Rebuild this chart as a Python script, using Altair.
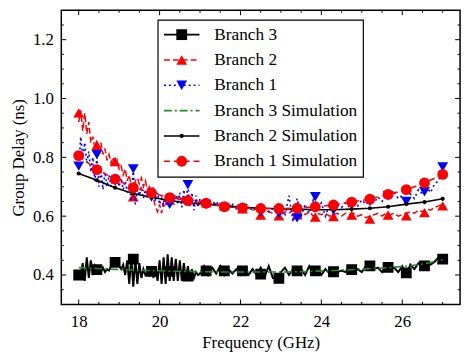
import altair as alt
import pandas as pd

# ---------------- data ----------------
# marker positions (GHz)
mk_x = [18.00, 18.45, 18.90, 19.35, 19.80, 20.25, 20.70, 21.15, 21.60, 22.05, 22.50,
        22.95, 23.40, 23.85, 24.30, 24.75, 25.20, 25.65, 26.10, 26.55, 27.00]

b3_mk = [0.400, 0.418, 0.443, 0.454, 0.412, 0.412, 0.396, 0.414, 0.414, 0.414, 0.403,
         0.389, 0.414, 0.414, 0.411, 0.418, 0.431, 0.426, 0.407, 0.431, 0.454]
b2_mk = [0.951, 0.841, 0.786, 0.666, 0.680, 0.655, 0.660, 0.645, 0.635, 0.625, 0.604,
         0.601, 0.605, 0.597, 0.599, 0.604, 0.590, 0.604, 0.601, 0.612, 0.635]
b1_mk = [0.770, 0.809, 0.720, 0.761, 0.665, 0.640, 0.707, 0.640, 0.630, 0.625, 0.615,
         0.610, 0.594, 0.666, 0.620, 0.640, 0.650, 0.670, 0.650, 0.683, 0.767]
b3_sim = [0.425, 0.422, 0.419, 0.417, 0.415, 0.413, 0.412, 0.411, 0.410, 0.410, 0.410,
          0.410, 0.411, 0.413, 0.415, 0.418, 0.421, 0.425, 0.430, 0.438, 0.452]
b2_sim = [0.745, 0.722, 0.697, 0.677, 0.664, 0.653, 0.645, 0.641, 0.635, 0.630, 0.627,
          0.625, 0.624, 0.622, 0.622, 0.624, 0.627, 0.632, 0.641, 0.648, 0.659]
b1_sim = [0.806, 0.758, 0.726, 0.697, 0.679, 0.663, 0.653, 0.644, 0.632, 0.628, 0.626,
          0.626, 0.627, 0.632, 0.638, 0.648, 0.658, 0.674, 0.690, 0.713, 0.742]

# dense measured traces
dense_x = [18.00, 18.05, 18.10, 18.15, 18.20, 18.25, 18.30, 18.35, 18.40, 18.45,
           18.50, 18.55, 18.60, 18.65, 18.70, 18.75, 18.80, 18.85, 18.90, 18.95,
           19.00, 19.05, 19.10, 19.15, 19.20, 19.25, 19.30, 19.35, 19.40, 19.45,
           19.50, 19.55, 19.60, 19.65, 19.70, 19.75, 19.80, 19.85, 19.90, 19.95,
           20.00, 20.05, 20.10, 20.15, 20.20, 20.25, 20.30, 20.35, 20.40, 20.45,
           20.50, 20.55, 20.60, 20.65, 20.70, 20.75, 20.80, 20.85, 20.90, 20.95,
           21.00, 21.1, 21.2, 21.3, 21.4, 21.5, 21.6, 21.7, 21.8, 21.9,
           22.0, 22.1, 22.2, 22.3, 22.4, 22.5, 22.6, 22.7, 22.8, 22.9,
           23.0, 23.1, 23.2, 23.3, 23.4, 23.5, 23.6, 23.7, 23.8, 23.9,
           24.0, 24.1, 24.2, 24.3, 24.4, 24.5, 24.6, 24.7, 24.8, 24.9,
           25.0, 25.1, 25.2, 25.3, 25.4, 25.5, 25.6, 25.7, 25.8, 25.9,
           26.0, 26.1, 26.2, 26.3, 26.4, 26.5, 26.6, 26.7, 26.8, 26.9, 27.0]

b3_dense = [0.40, 0.40, 0.44, 0.38, 0.46, 0.39, 0.45, 0.40, 0.43, 0.41,
            0.42, 0.41, 0.425, 0.41, 0.42, 0.415, 0.43, 0.445, 0.44, 0.445,
            0.43, 0.42, 0.435, 0.40, 0.45, 0.37, 0.46, 0.36, 0.455, 0.37,
            0.44, 0.39, 0.42, 0.40, 0.41, 0.40, 0.42, 0.39, 0.43, 0.38,
            0.45, 0.37, 0.46, 0.37, 0.47, 0.38, 0.46, 0.38, 0.455, 0.38,
            0.45, 0.38, 0.44, 0.385, 0.43, 0.38, 0.42, 0.39, 0.41, 0.40,
            0.405, 0.43, 0.40, 0.425, 0.405, 0.43, 0.40, 0.42, 0.405, 0.42,
            0.40, 0.415, 0.40, 0.42, 0.40, 0.425, 0.395, 0.43, 0.39, 0.385,
            0.41, 0.425, 0.40, 0.42, 0.405, 0.42, 0.40, 0.43, 0.405, 0.425,
            0.40, 0.42, 0.405, 0.415, 0.41, 0.415, 0.41, 0.43, 0.41, 0.42,
            0.41, 0.43, 0.435, 0.42, 0.425, 0.41, 0.43, 0.42, 0.425, 0.41,
            0.43, 0.40, 0.435, 0.42, 0.44, 0.43, 0.44, 0.435, 0.445, 0.46, 0.455]

b2_dense = [0.92, 0.96, 0.89, 0.95, 0.88, 0.92, 0.85, 0.87, 0.83, 0.86,
            0.82, 0.85, 0.81, 0.83, 0.79, 0.81, 0.78, 0.80, 0.77, 0.79,
            0.76, 0.77, 0.74, 0.76, 0.72, 0.74, 0.70, 0.66, 0.72, 0.73,
            0.71, 0.73, 0.70, 0.72, 0.69, 0.70, 0.68, 0.66, 0.63, 0.615,
            0.64, 0.61, 0.65, 0.64, 0.66, 0.65, 0.67, 0.66, 0.675, 0.66,
            0.67, 0.655, 0.665, 0.65, 0.66, 0.645, 0.655, 0.64, 0.65, 0.64,
            0.65, 0.645, 0.64, 0.65, 0.64, 0.645, 0.635, 0.64, 0.63, 0.635,
            0.63, 0.625, 0.63, 0.62, 0.625, 0.61, 0.62, 0.615, 0.61, 0.62,
            0.605, 0.615, 0.61, 0.62, 0.61, 0.615, 0.605, 0.615, 0.60, 0.61,
            0.605, 0.61, 0.60, 0.605, 0.61, 0.60, 0.61, 0.605, 0.61, 0.60,
            0.605, 0.595, 0.60, 0.605, 0.61, 0.60, 0.61, 0.605, 0.61, 0.60,
            0.605, 0.61, 0.615, 0.61, 0.62, 0.615, 0.625, 0.62, 0.63, 0.635, 0.64]

b1_dense = [0.76, 0.87, 0.80, 0.85, 0.78, 0.82, 0.75, 0.80, 0.72, 0.80,
            0.70, 0.76, 0.69, 0.75, 0.70, 0.74, 0.70, 0.73, 0.71, 0.74,
            0.70, 0.73, 0.69, 0.72, 0.68, 0.71, 0.65, 0.76, 0.64, 0.69,
            0.67, 0.70, 0.66, 0.69, 0.66, 0.68, 0.66, 0.70, 0.65, 0.68,
            0.64, 0.66, 0.63, 0.67, 0.64, 0.64, 0.66, 0.65, 0.67, 0.64,
            0.68, 0.63, 0.69, 0.64, 0.71, 0.63, 0.68, 0.62, 0.67, 0.63,
            0.66, 0.64, 0.655, 0.635, 0.65, 0.63, 0.645, 0.625, 0.64, 0.625,
            0.635, 0.62, 0.63, 0.62, 0.63, 0.615, 0.63, 0.615, 0.625, 0.61,
            0.63, 0.60, 0.67, 0.58, 0.66, 0.60, 0.64, 0.61, 0.655, 0.62,
            0.645, 0.60, 0.64, 0.615, 0.64, 0.63, 0.645, 0.63, 0.65, 0.635,
            0.655, 0.64, 0.66, 0.645, 0.665, 0.65, 0.675, 0.665, 0.68, 0.66,
            0.67, 0.645, 0.675, 0.66, 0.69, 0.675, 0.70, 0.68, 0.71, 0.72, 0.765]

x_major = [18, 20, 22, 24, 26]
x_minor = [18.5, 19, 19.5, 20.5, 21, 21.5, 22.5, 23, 23.5, 24.5, 25, 25.5, 26.5, 27]
y_major = [0.4, 0.6, 0.8, 1.0, 1.2]
y_minor = [0.35, 0.45, 0.5, 0.55, 0.65, 0.7, 0.75, 0.85, 0.9, 0.95,
           1.05, 1.1, 1.15, 1.25]

legend_labels = ["Branch 3", "Branch 2", "Branch 1",
                 "Branch 3 Simulation", "Branch 2 Simulation", "Branch 1 Simulation"]

# ---------------- layout ----------------
W, H = 404, 298
FONT = "Liberation Serif"
XS = alt.Scale(domain=[17.57, 27.43], nice=False, zero=False)
YS = alt.Scale(domain=[0.3, 1.3], nice=False, zero=False)

dense = pd.DataFrame({"f": dense_x, "b3": b3_dense, "b2": b2_dense, "b1": b1_dense})
mk = pd.DataFrame({"f": mk_x, "b3": b3_mk, "b2": b2_mk, "b1": b1_mk,
                   "s3": b3_sim, "s2": b2_sim, "s1": b1_sim})

xax = alt.Axis(values=x_major, title="Frequency (GHz)", grid=False, ticks=False, tickSize=0,
               domain=False, labelPadding=9, titlePadding=6, labelFlush=False)
yax = alt.Axis(values=y_major, format=".1f", title="Group Delay (ns)", grid=False, ticks=False,
               tickSize=0, domain=False, labelPadding=8, titlePadding=5, labelFlush=False)


def X(field):
    return alt.X(field, type="quantitative", scale=XS, axis=xax)


def Y(field):
    return alt.Y(field, type="quantitative", scale=YS, axis=yax)


def line(field, color, width=1.5, dash=None, df=dense):
    kw = dict(color=color, strokeWidth=width, clip=True)
    if dash:
        kw["strokeDash"] = dash
    return alt.Chart(df).mark_line(**kw).encode(x=X("f"), y=Y(field))


def pts(field, color, shape, size):
    return alt.Chart(mk).mark_point(shape=shape, filled=True, color=color, size=size,
                                    opacity=1, clip=True).encode(x=X("f"), y=Y(field))


RED, BLUE, GREEN = "#ff0000", "#0000ff", "#1e8c1e"
layers = [
    line("b3", "black", 2.0),
    pts("b3", "black", "square", 120),
    line("b2", RED, 1.5, [6, 3]),
    pts("b2", RED, "triangle-up", 120),
    line("b1", BLUE, 1.6, [2, 3]),
    pts("b1", BLUE, "triangle-down", 120),
    line("s3", GREEN, 1.6, [8, 3, 2, 3], df=mk),
    line("s2", "black", 1.6, df=mk),
    pts("s2", "black", "circle", 18),
    line("s1", RED, 1.5, [6, 4], df=mk),
    pts("s1", RED, "circle", 120),
]

# inward ticks on all four sides
def tick_layer(vals, axis, length):
    df = pd.DataFrame({"v": vals})
    base = alt.Chart(df).mark_rule(color="black", strokeWidth=1)
    if axis == "x":
        return [base.encode(x=X("v"), y=alt.value(H - length), y2=alt.value(H)),
                base.encode(x=X("v"), y=alt.value(0), y2=alt.value(length))]
    return [base.encode(y=Y("v"), x=alt.value(0), x2=alt.value(length)),
            base.encode(y=Y("v"), x=alt.value(W - length), x2=alt.value(W))]

layers += tick_layer(x_major, "x", 5) + tick_layer(x_minor, "x", 2.5)
layers += tick_layer(y_major, "y", 5) + tick_layer(y_minor, "y", 2.5)

# legend box
one = pd.DataFrame({"a": [0]})
layers.append(alt.Chart(one).mark_rect(fill="white", stroke="black", strokeWidth=1.2).encode(
    x=alt.value(98), x2=alt.value(306), y=alt.value(10), y2=alt.value(169)))

leg_style = [
    dict(color="black", dash=None, shape="square", size=120, width=1.6),
    dict(color=RED, dash=[6, 3], shape="triangle-up", size=120, width=1.5),
    dict(color=BLUE, dash=[2, 3], shape="triangle-down", size=120, width=1.6),
    dict(color=GREEN, dash=[8, 3, 2, 3], shape=None, size=0, width=1.6),
    dict(color="black", dash=None, shape="circle", size=18, width=1.6),
    dict(color=RED, dash=[6, 4], shape="circle", size=120, width=1.5),
]
for i, (lab, st) in enumerate(zip(legend_labels, leg_style)):
    yy = 24.7 + i * 25.65
    kw = dict(color=st["color"], strokeWidth=st["width"])
    if st["dash"]:
        kw["strokeDash"] = st["dash"]
    layers.append(alt.Chart(one).mark_rule(**kw).encode(
        x=alt.value(104), x2=alt.value(140), y=alt.value(yy)))
    if st["shape"]:
        layers.append(alt.Chart(one).mark_point(shape=st["shape"], filled=True, opacity=1,
                                                color=st["color"], size=st["size"]).encode(
            x=alt.value(122), y=alt.value(yy)))
    layers.append(alt.Chart(pd.DataFrame({"t": [lab]})).mark_text(
        font=FONT, fontSize=17.5, align="left", baseline="middle", color="black").encode(
        x=alt.value(155), y=alt.value(yy), text="t:N"))

chart = alt.layer(*layers).properties(
    width=W, height=H,
    background="white",
    autosize=alt.AutoSizeParams(type="none"),
    padding={"left": 54, "top": 0, "right": 6, "bottom": 52},
).configure_view(stroke="black", strokeWidth=1.5).configure_axis(
    labelFont=FONT, labelFontSize=17, labelColor="black",
    titleFont=FONT, titleFontSize=17, titleFontWeight="normal", titleColor="black",
)

chart.save("out.html", embed_options={"renderer": "svg", "actions": False})
